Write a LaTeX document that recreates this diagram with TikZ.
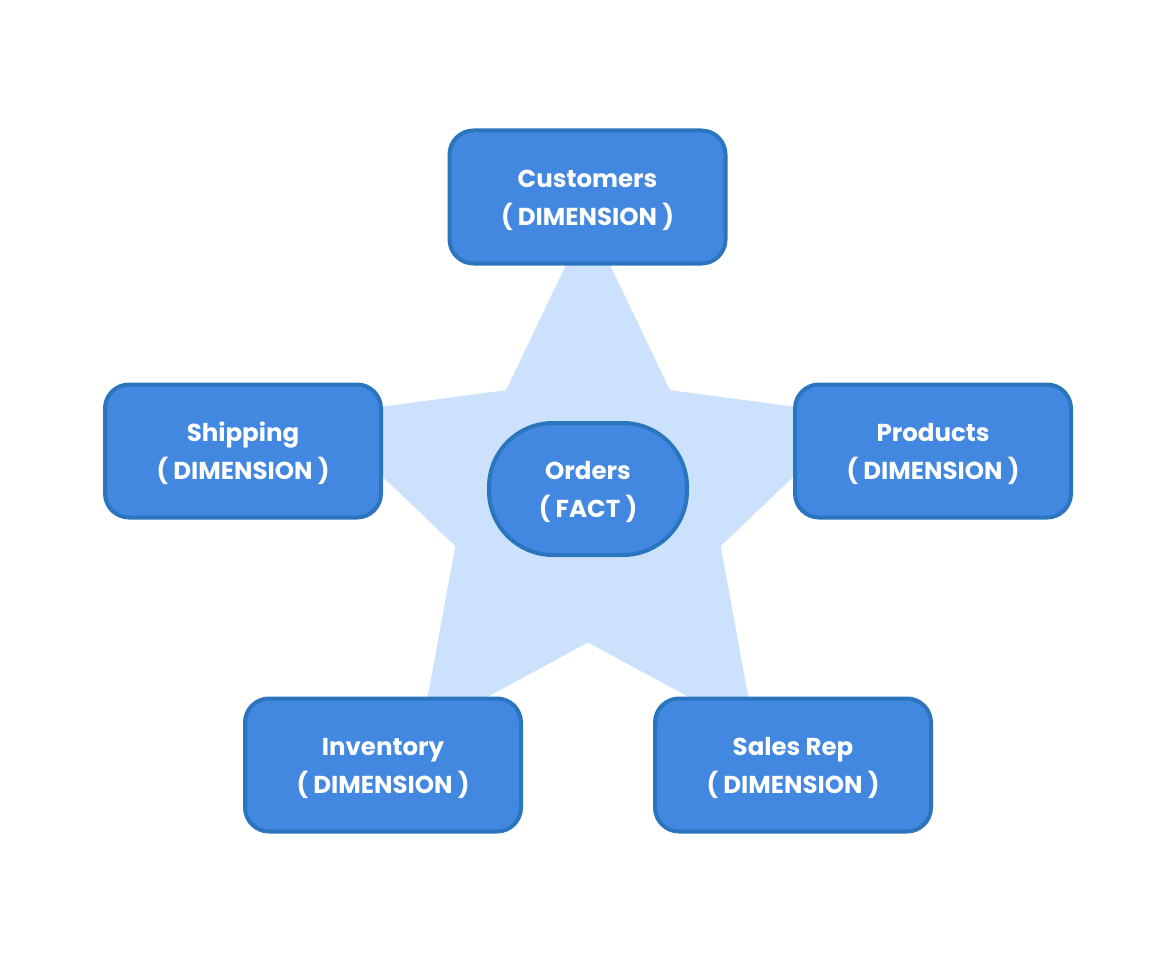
\documentclass[tikz,border=0pt]{standalone}
\usepackage{fontspec}
\setmainfont{Poppins}
\usepackage{tikz}
\usetikzlibrary{positioning}
\definecolor{BoxBlue}{HTML}{4287E0}
\definecolor{BoxEdge}{HTML}{2B75BE}
\definecolor{StarBlue}{HTML}{CCE2FC}
\newcommand{\toprow}[1]{\rule{0pt}{25pt}#1}

\begin{document}
\begin{tikzpicture}[x=1pt, y=-1pt,
                      every node/.style={draw=BoxEdge, line width=4pt, fill=BoxBlue,
                                         text=white, align=center,
                                         font=\fontsize{24.5}{38}\selectfont\bfseries},
                      dimbox/.style={rounded corners=24pt, minimum width=276pt, minimum height=133pt},
                      factbox/.style={rounded corners=64pt, minimum width=198pt, minimum height=132pt}]
  \useasboundingbox (0,0) rectangle (1176,963);
  % star behind the boxes
  \begin{scope}[shift={(588,503)}]
    \fill[StarBlue] (-90:284)
      \foreach \k in {0,...,4} { -- (-54+72*\k:139.5) -- (-18+72*\k:284) } -- cycle;
  \end{scope}
  \node[factbox] (orders) at (588,489) {\toprow{Orders}\\( FACT )};
  \node[dimbox] (cust) at (587.5,197) {\toprow{Customers}\\( DIMENSION )};
  \node[dimbox] (ship) at (243,451) {\toprow{Shipping}\\( DIMENSION )};
  \node[dimbox] (prod) at (933,451) {\toprow{Products}\\( DIMENSION )};
  \node[dimbox] (inv) at (383,765) {\toprow{Inventory}\\( DIMENSION )};
  \node[dimbox] (sales) at (793,765) {\toprow{Sales Rep}\\( DIMENSION )};
\end{tikzpicture}
\end{document}
